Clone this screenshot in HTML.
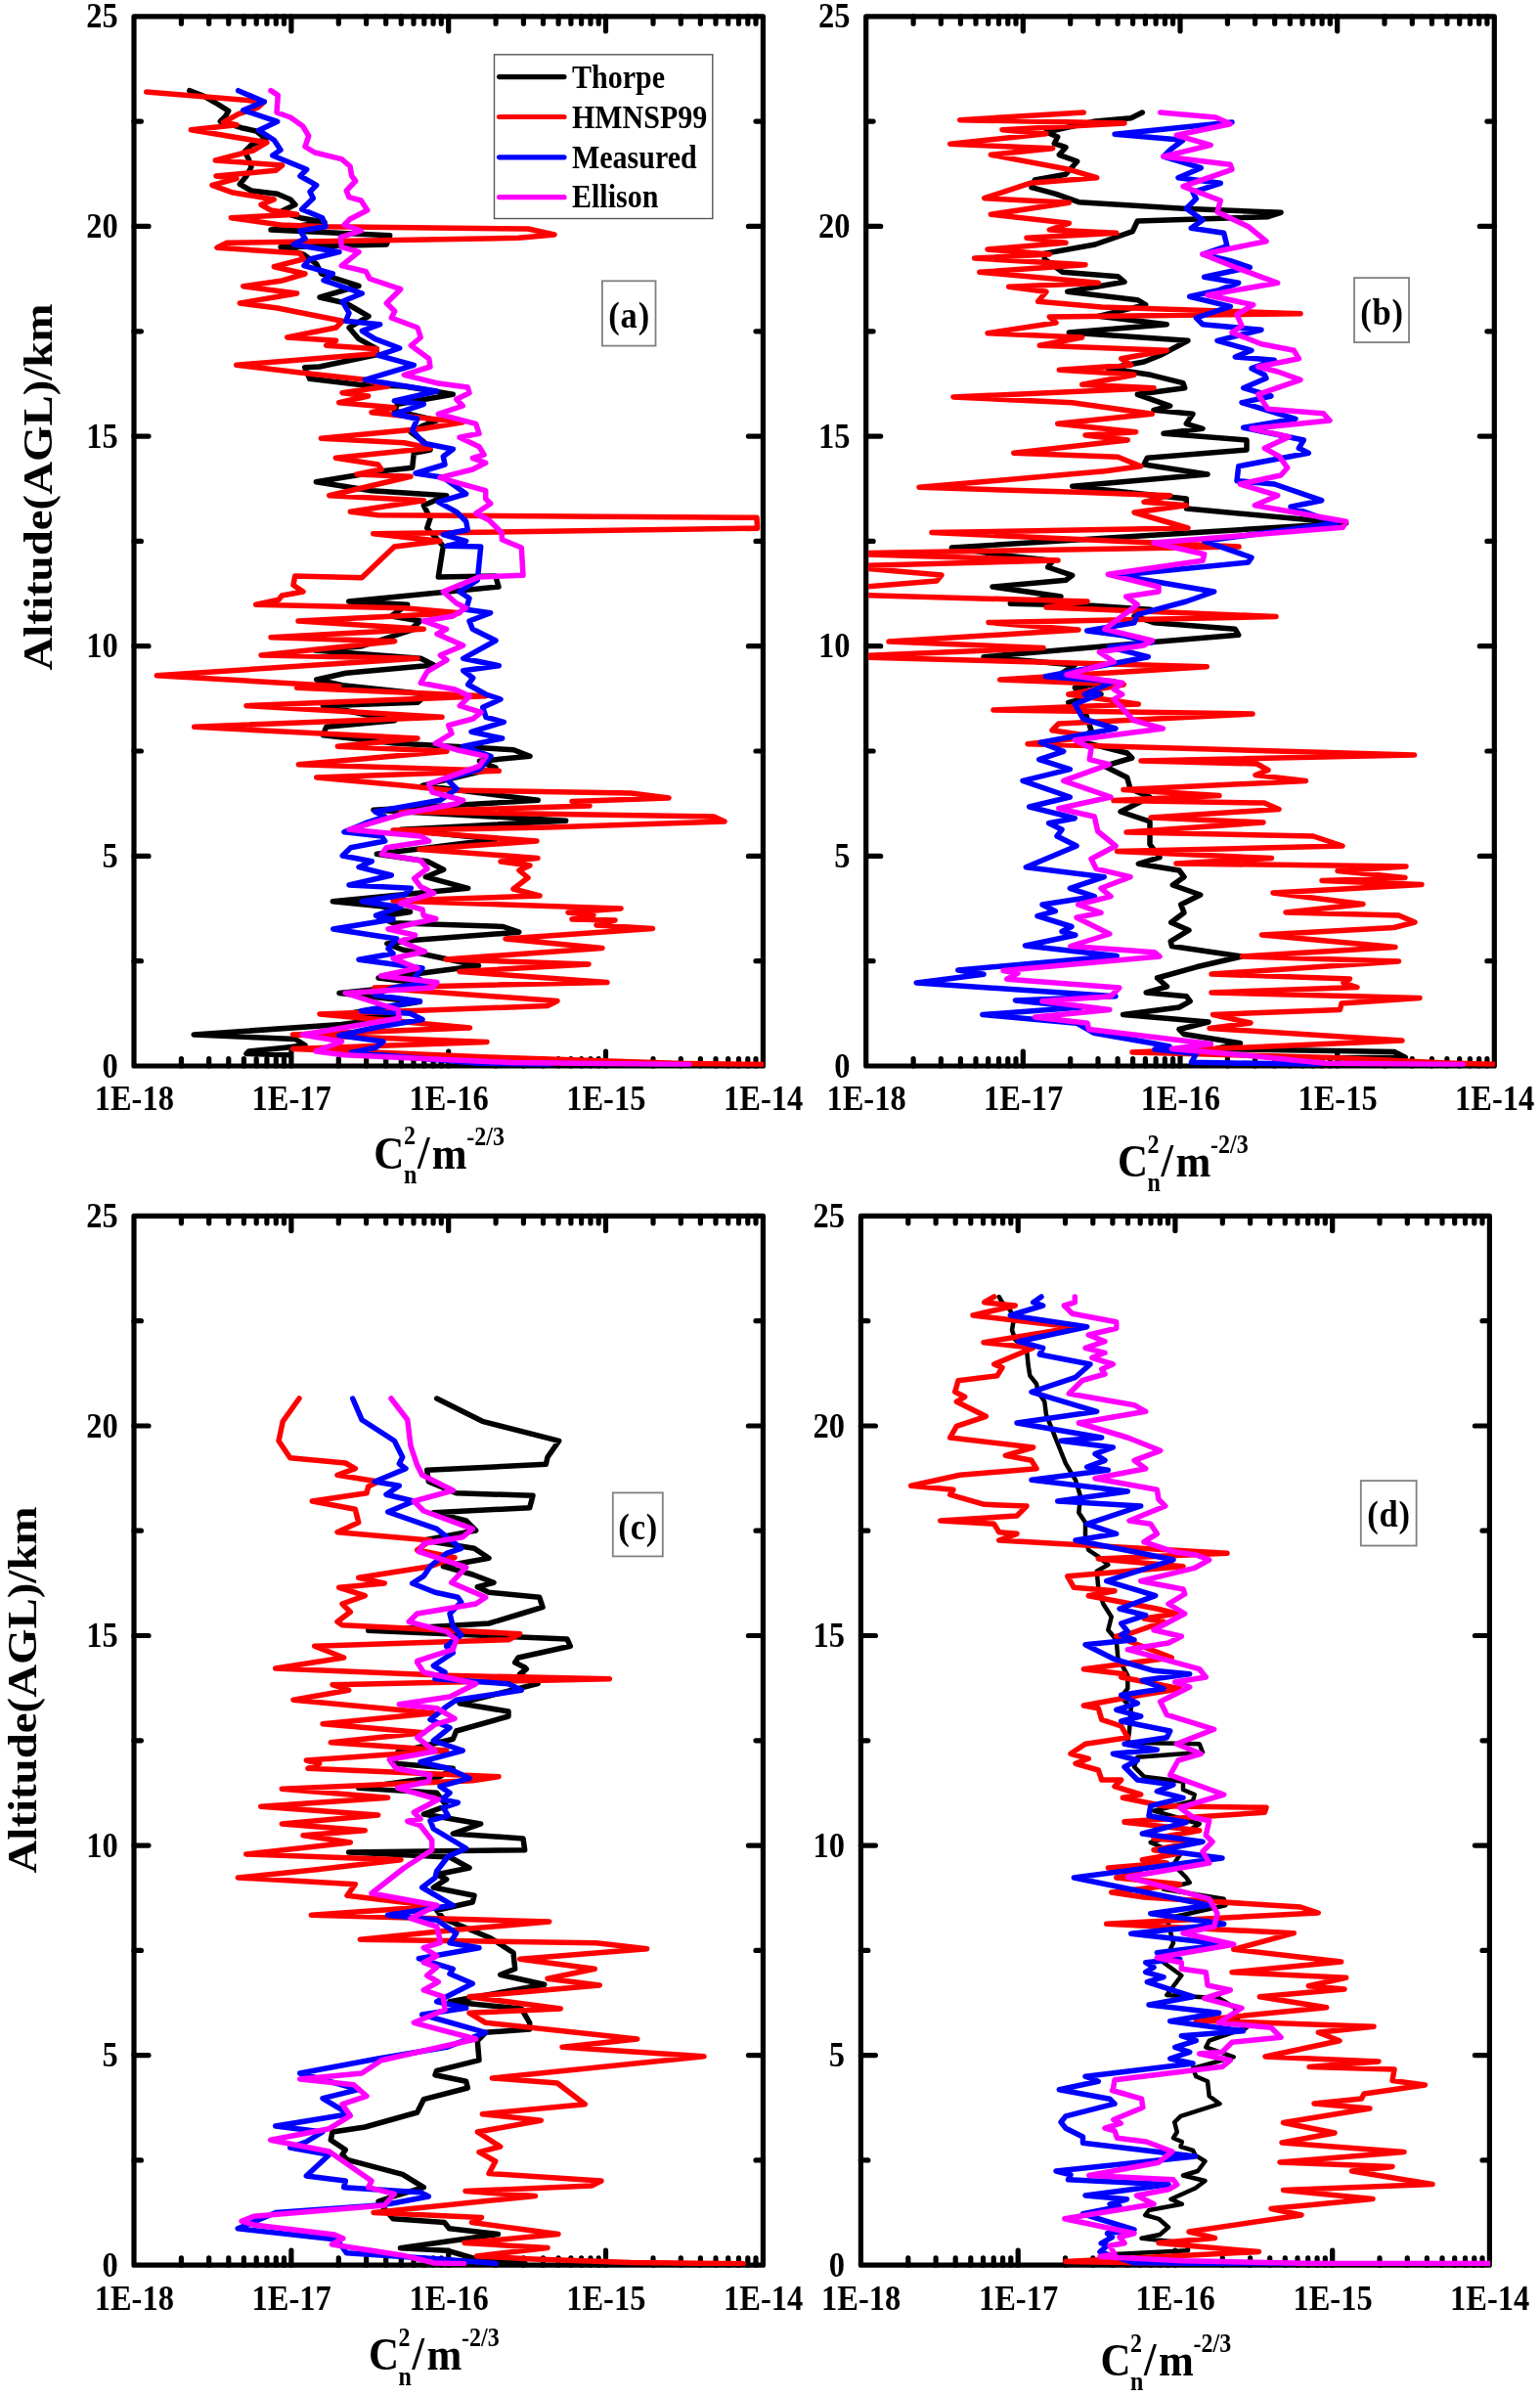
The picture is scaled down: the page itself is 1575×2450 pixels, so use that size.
<!DOCTYPE html>
<html><head><meta charset="utf-8"><title>Cn2 profiles</title>
<style>html,body{margin:0;padding:0;background:#fff}svg{display:block}text{font-family:"Liberation Serif","Times New Roman",serif;font-weight:bold;fill:#000}</style></head><body>
<svg width="1575" height="2450" viewBox="0 0 1575 2450">
<rect width="1575" height="2450" fill="#fff"/>
<defs><filter id="soft" x="0" y="0" width="100%" height="100%" filterUnits="objectBoundingBox"><feGaussianBlur stdDeviation="0.5"/></filter></defs>
<g filter="url(#soft)"><rect width="1575" height="2450" fill="#fff"/>
<g id="panel-a">
<path d="M185.4 16.8v7.4M185.4 1090v-7.4M213.7 16.8v7.4M213.7 1090v-7.4M233.8 16.8v7.4M233.8 1090v-7.4M249.4 16.8v7.4M249.4 1090v-7.4M262.2 16.8v7.4M262.2 1090v-7.4M272.9 16.8v7.4M272.9 1090v-7.4M282.3 16.8v7.4M282.3 1090v-7.4M290.5 16.8v7.4M290.5 1090v-7.4M297.9 16.8v15M297.9 1090v-15M346.3 16.8v7.4M346.3 1090v-7.4M374.6 16.8v7.4M374.6 1090v-7.4M394.7 16.8v7.4M394.7 1090v-7.4M410.3 16.8v7.4M410.3 1090v-7.4M423 16.8v7.4M423 1090v-7.4M433.8 16.8v7.4M433.8 1090v-7.4M443.1 16.8v7.4M443.1 1090v-7.4M451.3 16.8v7.4M451.3 1090v-7.4M458.7 16.8v15M458.7 1090v-15M507.1 16.8v7.4M507.1 1090v-7.4M535.4 16.8v7.4M535.4 1090v-7.4M555.5 16.8v7.4M555.5 1090v-7.4M571.1 16.8v7.4M571.1 1090v-7.4M583.9 16.8v7.4M583.9 1090v-7.4M594.6 16.8v7.4M594.6 1090v-7.4M604 16.8v7.4M604 1090v-7.4M612.2 16.8v7.4M612.2 1090v-7.4M619.5 16.8v15M619.5 1090v-15M668 16.8v7.4M668 1090v-7.4M696.3 16.8v7.4M696.3 1090v-7.4M716.4 16.8v7.4M716.4 1090v-7.4M732 16.8v7.4M732 1090v-7.4M744.7 16.8v7.4M744.7 1090v-7.4M755.5 16.8v7.4M755.5 1090v-7.4M764.8 16.8v7.4M764.8 1090v-7.4M773 16.8v7.4M773 1090v-7.4M137 982.7h7.4M780.4 982.7h-7.4M137 875.4h15M780.4 875.4h-15M137 768h7.4M780.4 768h-7.4M137 660.7h15M780.4 660.7h-15M137 553.4h7.4M780.4 553.4h-7.4M137 446.1h15M780.4 446.1h-15M137 338.8h7.4M780.4 338.8h-7.4M137 231.4h15M780.4 231.4h-15M137 124.1h7.4M780.4 124.1h-7.4" stroke="#000" stroke-width="5.2" fill="none" stroke-linecap="round"/>
<rect x="137" y="16.8" width="643.4" height="1073.2" fill="none" stroke="#000" stroke-width="5.2" stroke-linejoin="round"/>
<clipPath id="cp0"><rect x="139.4" y="16.8" width="641.6" height="1073.9"/></clipPath>
<g clip-path="url(#cp0)" fill="none" stroke-width="5.5" stroke-linejoin="round" stroke-linecap="round">
<polyline stroke="#000000" points="193.7,92.7 208.7,98.3 220.3,105 233.7,113.3 230.3,119.3 225.3,124 247,130.7 262,134 272,141.7 257,148.3 250.3,155 254.3,162.7 257,170.7 252,180 245.3,188.3 257,195 283.7,198.3 297,204 302,209.3 292,214 287,216.7 307,222.7 332,227.3 277,235 398.7,240.7 395.3,250 287,252.7 310.3,260 323.7,270 328.7,280 367,292.3 327,304 353.7,310 377,323.3 357,335 367,346.7 385.3,356.7 385,362.7 326.7,375 311.7,375.7 316.7,387.3 366.7,393.3 413.3,395 463.3,403.3 406.7,413.3 403.3,420 446.7,430 433.3,435 420,441.7 433.3,451.7 440,460 423.3,463.3 421.7,478.3 390,481.7 323.3,492.7 380,501.7 456.7,506.7 433.3,516.7 440,530 436.7,540 453.3,558.3 448.3,590 506.7,589 510,600 356.7,615 416.7,618.3 400,630 430,635 420,643.3 422,644 370.3,660.7 322,665 430.3,673.3 443.7,680 353.7,688.3 323.7,695 350.3,700.7 437,710 427,718.3 330.3,721.7 403.7,736.7 333.7,743.3 330.3,751.7 403.7,760 525.3,766.7 542,773.3 490.3,778.3 507,785 432,803.3 550.3,818.3 382,828.3 578.7,839.3 410.3,848.3 507,858.3 427,868.3 385.3,873.3 437,880.7 453.7,889.3 435.3,896.7 478.7,908.3 340.3,921.7 390.3,926.7 419.5,932.5 387,937.5 402,943.8 514.5,947.5 530.8,953.2 424.5,961.2 395.8,965 412,971.2 489.5,987.5 432,995 387,1000 437,1006.2 347,1015.5 409.5,1022.5 429.5,1024.2 357,1036.2 407,1040 349.5,1047.5 198.2,1058 302,1062.5 312,1068.8 292,1071.2 254.5,1075 252,1077.5 297,1078.8"/>
<polyline stroke="#ff0000" points="149.7,94 270.3,104 263.7,110 243.7,116.7 228.7,125 242,127.7 195.3,132.7 273,145.7 258.7,154 220.3,164 288.7,169 282,174.3 221,180 242,182.7 217,189.3 237,196.7 280.3,204 267,209.3 277,215 303.7,219.3 236.3,222.7 287,230 333.7,231.7 540.3,234 567,240 530.3,243.3 232,248.3 222,253.3 307,259 310.3,265 280.3,272.7 312,280 287,287.3 248.7,292.7 303.7,300 245.3,310 283.7,315 350.3,328.3 343.7,335 293.7,345 343.7,348.3 333.7,353.3 385.3,356.7 383.7,361.7 241.7,373.3 313.3,381.7 373.3,388.3 396.7,395 350,401.7 376.7,405 346.7,411.7 403.3,416.7 380,421.7 473.3,431.7 433.3,438.3 328.3,448.3 413.3,452.7 440,458.3 343.3,468.3 386.7,475 390,480 365,485 420,487.3 336.7,506.7 433.3,511.7 358.3,523.3 386.7,526.7 774,529.3 774.5,540.2 381.7,545.7 450,553.3 403.3,559 370,590.7 301.7,589 300,598.3 310,605 288.3,609 285,613.3 261.7,618.3 413.3,621.7 470,626.7 305,635 433.3,643.3 277,651.7 403.7,655.7 267,670 427,673.3 160.3,690.7 347,701.7 303.7,703.3 497,711.7 252,721.7 452,733.3 198.7,743.3 427,755 345.3,763.3 457,768.3 305.3,781.7 510.3,788.3 323.7,795 413.7,803.3 457.5,808 645,811 684,816 585,819.5 603,824 410,830 730,835 741,840 560,846 402,849 549,860 429,868.5 550,877.5 512,881 542,885 531,890 540,897.5 525,909 552,916 402,921 635,929 581,933 607,936 585,940 629,941 610,946 667.5,949.5 517,960 616,969.5 456,981 602,986 470,993.5 621,1004.5 383,1010 570,1023.5 560,1028.5 327,1037 480.5,1051 299.5,1058 498,1065.5 299.5,1072.5 500,1081 700,1087.5 790,1088.6"/>
<polyline stroke="#0000ff" points="243.7,92.7 270.3,104 248.7,112.7 283.7,124.3 264.7,133.3 280.3,143.3 287,153.3 278.7,159 313.7,173.3 307,180 323.7,189.3 317,196 320.3,202.7 308.7,214 329.7,222.7 333,231.7 307,236 312,244 300.3,250 347,257.7 317,265 311,271.7 340.3,280 331,286.7 370.3,300 350.3,308.3 357,320 353.7,328.3 388.7,331.7 370.3,338.3 383.7,346.7 408.7,356 387,363.3 423.3,373.3 373.3,388.3 446.7,400 403.3,410 433.3,413.3 403.3,423.3 426.7,428.3 421.7,440 433.3,453.3 463.3,459.3 453.3,466.7 455,475 425,484 453.3,488.3 476.7,505 448.3,513.3 466.7,523.3 476.7,533.3 478.3,541.7 453.3,546.7 476.7,553.3 456.7,558.3 491.7,559 488.3,593.3 470,605 480,611.7 476.7,623.3 501.7,626.7 480,635 483.3,643.3 507,655 473.7,673.3 510.3,680.7 473.7,685.7 483.7,693.3 478.7,700 497,710 512,715 493.7,723.3 497,733.3 515.3,738.3 482,748.3 513.7,755 473.7,763.3 502,773.3 490.3,786.7 457,796.7 467,806.7 450.3,818.3 383.7,830 393.7,835 373.7,841.7 352,850.7 390.3,855 393.7,860 358.7,866.7 350.3,875 380.3,880.7 367,886.7 400.3,895 357,905 420.3,908.3 413.7,915 370.3,921.7 409.5,927.5 384.5,936.2 402,940 340.8,950 405.8,960 397,970 402,975 367,981.2 432,990 424.5,998.8 435.8,1005 402,1010 383.2,1017.5 429.5,1023.8 369.5,1033.8 419.5,1036.2 432,1042.5 387,1050 347,1058.8 392,1065 384.5,1071.2 359.5,1076.2 487,1087 562,1088.5"/>
<polyline stroke="#ff00ff" points="277,92.7 284.3,97.3 283,115 297,120 309.7,129 315.7,139 312,150 322,156 349.3,162.7 358,170 359.7,180 363.7,185 354.3,195 357,201.7 369.3,205 375.7,215 358,224 352,230 369.3,236 348.3,242.7 349.3,252.7 367,257.7 349.3,271.7 374.3,277.7 378,285 409.7,295.7 395.3,310 403.7,318.3 400.3,325 427,335 430.3,345 420.3,353.3 438.7,366.7 440,375 413.3,383.3 446.7,391.7 478.3,396 480,401.7 466.7,408.3 473.3,415 448.3,423.3 486.7,433.3 490,443.3 470,447.3 490,456.7 495,465 483.3,468.3 496.7,473.3 483.3,480 450,488.3 466.7,493.3 496.7,501.7 496.7,510 501.7,515 486.7,525 500,531.7 513.3,545 513.3,551.7 533.3,560 535,588.3 490,590 453.3,605 466.7,616.7 476.7,621.7 463.3,630 433.3,635 456.7,643.3 447,648.3 473.7,660 450.3,670 457,675 437,686.7 430.3,698.3 465.3,705 480.3,711.7 470.3,721.7 492,728.3 483.7,735 458.7,741.7 462,750 445.3,760 467,766.7 497,773.3 490.3,783.3 467,791.7 438.7,801.7 442,810 473.7,818.3 467,821.7 413.7,831.7 357,848.3 430.3,855 438.7,860 395.3,866.7 390.3,873.3 430.3,880 437,888.3 423.7,898.3 430.3,906.7 443.7,913.3 410.3,923.3 409.5,923.8 432,930 433.2,936.2 445.8,939.5 397,950 424.5,956.2 409.5,962.5 434.5,973 402,980 427,990 389.5,998 447,1004.5 442,1010 353.2,1015.5 407,1032.5 408.2,1041.2 309.5,1058 349.5,1065 323.2,1075 352,1078.8 522,1086.5 705,1088.5"/>
</g>
<text transform="translate(120.7 1101.6) scale(1 1.1)" font-size="32.5" text-anchor="end">0</text>
<text transform="translate(120.7 887) scale(1 1.1)" font-size="32.5" text-anchor="end">5</text>
<text transform="translate(120.7 672.3) scale(1 1.1)" font-size="32.5" text-anchor="end">10</text>
<text transform="translate(120.7 457.7) scale(1 1.1)" font-size="32.5" text-anchor="end">15</text>
<text transform="translate(120.7 243) scale(1 1.1)" font-size="32.5" text-anchor="end">20</text>
<text transform="translate(120.7 28.4) scale(1 1.1)" font-size="32.5" text-anchor="end">25</text>
<text transform="translate(137.3 1135.3) scale(1 1.1)" font-size="32.5" text-anchor="middle">1E-18</text>
<text transform="translate(298.2 1135.3) scale(1 1.1)" font-size="32.5" text-anchor="middle">1E-17</text>
<text transform="translate(459 1135.3) scale(1 1.1)" font-size="32.5" text-anchor="middle">1E-16</text>
<text transform="translate(619.8 1135.3) scale(1 1.1)" font-size="32.5" text-anchor="middle">1E-15</text>
<text transform="translate(780.7 1135.3) scale(1 1.1)" font-size="32.5" text-anchor="middle">1E-14</text>
<g transform="translate(382.3 1194.5) scale(1 1.1)"><text font-size="43" x="0" y="0">C</text><text font-size="24" x="30.6" y="-22.3">2</text><text font-size="24" x="30.6" y="13.8">n</text><text font-size="45" x="44.6" y="0">/</text><text font-size="43" x="59.5" y="0">m</text><text font-size="24" x="95" y="-21.8">-2/3</text></g>
<text transform="translate(52.6 498) rotate(-90)" font-size="43" text-anchor="middle" textLength="375" lengthAdjust="spacingAndGlyphs">Altitude(AGL)/km</text>
</g>
<g id="panel-b">
<path d="M934.1 16.8v7.4M934.1 1090v-7.4M962.3 16.8v7.4M962.3 1090v-7.4M982.4 16.8v7.4M982.4 1090v-7.4M998 16.8v7.4M998 1090v-7.4M1010.7 16.8v7.4M1010.7 1090v-7.4M1021.5 16.8v7.4M1021.5 1090v-7.4M1030.8 16.8v7.4M1030.8 1090v-7.4M1039 16.8v7.4M1039 1090v-7.4M1046.3 16.8v15M1046.3 1090v-15M1094.7 16.8v7.4M1094.7 1090v-7.4M1123 16.8v7.4M1123 1090v-7.4M1143.1 16.8v7.4M1143.1 1090v-7.4M1158.6 16.8v7.4M1158.6 1090v-7.4M1171.4 16.8v7.4M1171.4 1090v-7.4M1182.1 16.8v7.4M1182.1 1090v-7.4M1191.4 16.8v7.4M1191.4 1090v-7.4M1199.6 16.8v7.4M1199.6 1090v-7.4M1207 16.8v15M1207 1090v-15M1255.4 16.8v7.4M1255.4 1090v-7.4M1283.6 16.8v7.4M1283.6 1090v-7.4M1303.7 16.8v7.4M1303.7 1090v-7.4M1319.3 16.8v7.4M1319.3 1090v-7.4M1332 16.8v7.4M1332 1090v-7.4M1342.8 16.8v7.4M1342.8 1090v-7.4M1352.1 16.8v7.4M1352.1 1090v-7.4M1360.3 16.8v7.4M1360.3 1090v-7.4M1367.7 16.8v15M1367.7 1090v-15M1416 16.8v7.4M1416 1090v-7.4M1444.3 16.8v7.4M1444.3 1090v-7.4M1464.4 16.8v7.4M1464.4 1090v-7.4M1479.9 16.8v7.4M1479.9 1090v-7.4M1492.7 16.8v7.4M1492.7 1090v-7.4M1503.4 16.8v7.4M1503.4 1090v-7.4M1512.7 16.8v7.4M1512.7 1090v-7.4M1520.9 16.8v7.4M1520.9 1090v-7.4M885.7 982.7h7.4M1528.3 982.7h-7.4M885.7 875.4h15M1528.3 875.4h-15M885.7 768h7.4M1528.3 768h-7.4M885.7 660.7h15M1528.3 660.7h-15M885.7 553.4h7.4M1528.3 553.4h-7.4M885.7 446.1h15M1528.3 446.1h-15M885.7 338.8h7.4M1528.3 338.8h-7.4M885.7 231.4h15M1528.3 231.4h-15M885.7 124.1h7.4M1528.3 124.1h-7.4" stroke="#000" stroke-width="5.2" fill="none" stroke-linecap="round"/>
<rect x="885.7" y="16.8" width="642.6" height="1073.2" fill="none" stroke="#000" stroke-width="5.2" stroke-linejoin="round"/>
<clipPath id="cp1"><rect x="888.1" y="16.8" width="640.8" height="1073.9"/></clipPath>
<g clip-path="url(#cp1)" fill="none" stroke-width="5.5" stroke-linejoin="round" stroke-linecap="round">
<polyline stroke="#000000" points="1168.3,115 1156.7,120.7 1120,124 1070,135 1081.7,140 1078.3,146.7 1090,150.7 1083.3,158.3 1101.7,165 1090,178.3 1058.3,184 1055,191.7 1080,198.3 1103.3,206.7 1210,213.3 1310,217.3 1296.7,221.7 1163.3,226 1158.3,236.7 1120,250 1068.3,259.3 1068.3,265 1086.7,278.3 1143.3,282.7 1150,288.3 1091.7,298.3 1163.3,306.7 1171.7,311.7 1123.3,323.3 1193.3,331.7 1093.3,340 1215,348.3 1186.7,363.3 1170,370 1133.3,376.7 1176.7,383.3 1210,391.7 1211.7,396.7 1163.3,403.3 1186.7,411.7 1196.7,415 1180,419.3 1220,423.3 1213.3,433.3 1230,438.3 1190,443.3 1275,450 1275,460 1173.3,468.3 1170,475 1235,485 1096.7,497.3 1213.3,510 1213.3,520 1376.7,535 973.3,560 1030,568.3 1076.7,573.3 1071.7,580 1096.7,588.3 1090,593.3 1015,600 1085,610 1033.3,617.3 1116.7,619.3 1176.7,623.3 1160,630 1180,636.7 1263.3,643.3 1266.7,649.3 1176.7,656.7 1119.3,661.7 1006,671.7 1099.3,680 1086,688.3 1126,698.3 1099.3,703.3 1126,710 1092.7,718.3 1109.3,726.7 1116,746.7 1106,758.3 1152.7,770 1157.7,775 1129.3,783.3 1152.7,795 1156,806.7 1176,815 1146,830 1176,840 1176,863.3 1186,876.7 1164.3,883.3 1206,890 1211,896.7 1199.3,905 1227.7,915 1207.7,925 1211,933.3 1197.7,943.3 1216,951.2 1197.2,962.5 1198.5,967.5 1269.8,978 1223.5,988.8 1183.5,1000 1193.5,1008.8 1172.2,1015 1213.5,1018.8 1217.2,1023.8 1206,1030 1148.5,1037.5 1236,1045 1206,1052.5 1211,1057.5 1268.5,1066.8 1243.5,1072.5 1426,1075.5 1437.2,1081.2 1368.5,1081.8"/>
<polyline stroke="#ff0000" points="1108.3,115 981.7,122.7 1150,126 1025,132.7 1070,136.7 971.7,147.3 1076.7,151.7 1013.3,158.3 1093.3,173.3 1121.7,181.7 1053.3,187.3 1006.7,202.7 1093.3,207.3 1013.3,219.3 1093.3,228.3 1073.3,235 1141.7,238.3 1050,243.3 1090,248.3 1010,255 1073.3,260 996.7,264 1110,270.7 1001.7,278.3 1123.3,289.3 1031.7,293.3 1070,298.3 1061.7,308.3 1126.7,314 1330,320.7 1073.3,324 1080,330 1010,340.7 1106.7,345 1063.3,353.3 1193.3,358.3 1146.7,366.7 1156.7,373.3 1083.3,378.3 1156.7,382.7 1160,383.3 1106.7,393.3 1180,396.7 975,406 1096.7,411.7 1178.3,423.3 1081.7,433.3 1161.7,441.7 1110,445 1153.3,450 1036.7,463.3 1143.3,467.3 1166.7,476.7 1130,481.7 940,498.3 1103.3,503.3 1196.7,506.7 1170,513.3 1213.3,516.7 1160,524 1215,540 953,544.5 1267,559 860,566 1082,573 860,579 963,588 958,594 860,602 860,608 1112,615 1070,621 1305,630.5 1011,636.5 1103,644 909,656 1067,662.5 860,671.5 1234.3,681.7 1022.7,695 1149.3,700 1092.7,710 1164.3,720 1016,726 1281,730 1082.7,740 1076,746.7 1119.3,753.3 1051,760.7 1446.5,772 1167,778 1285.5,781 1297,787.5 1284,792.5 1335.5,798.5 1149,807.5 1247,813.5 1139,818.5 1293,821 1308,827.5 1177,836 1292,841 1152,851 1343,855 1373,865 1142.5,870.5 1300.5,877.5 1203,883 1438,886 1368,890.5 1437,897.5 1352,900.5 1454,904.5 1302,913 1394,924.5 1315,933 1430.5,936 1447,943 1425.5,948.5 1290.5,956 1427,968.5 1270.5,978 1430.5,983 1239,996 1380.5,1001 1374,1005 1388,1009.5 1239,1015 1452,1020.5 1372,1026 1370.5,1032.5 1240.5,1037.5 1279,1046 1237,1051.5 1434,1064 1158,1076 1363,1081.5 1480,1087 1540,1088.5"/>
<polyline stroke="#0000ff" points="1260,125 1140,137.3 1210,143.3 1196.7,153.3 1190,160 1228.3,171.7 1205,181.7 1248.3,187.3 1220,196.7 1223.3,203.3 1213.3,213.3 1230,225 1218.3,233.3 1251.7,238.3 1255,251.7 1230,260 1258.3,266.7 1278.3,273.3 1231.7,283.3 1266.7,289.3 1246.7,296.7 1216.7,303.3 1258.3,313.3 1223.3,325 1230,331.7 1290,337.3 1245,348.3 1280,358.3 1263.3,365 1303.3,368.3 1280,376.7 1293.3,383.3 1295,386.7 1271.7,396.7 1300,405 1270,411.7 1325,428.3 1271.7,437.3 1333.3,450 1328.3,458.3 1338.3,463.3 1266.7,476.7 1265,491.7 1303.3,495 1351.7,511.7 1320,518.3 1366.7,535 1231.7,553.3 1280,570 1276.7,575 1143.3,588.3 1241.7,605 1213.3,615 1163.3,628.3 1160,636.7 1111.7,645 1150,650 1178.3,656.7 1134.3,661.7 1174.3,671.7 1069.3,691.7 1139.3,696.7 1109.3,710 1124.3,710 1099.3,720 1107.7,735 1141,745 1064.3,759.3 1087.7,768.3 1062.7,776.7 1094.3,786.7 1046,798.3 1094.3,815 1052.7,825 1099.3,836.7 1072.7,841.7 1086,848.3 1081,855 1101,865 1049.3,886.7 1129.3,896.7 1094.3,908.3 1119.3,916.7 1066,925 1079.3,931.7 1061,936.7 1096,947.5 1086,952.5 1099.8,956.2 1048.5,967 1142.2,977.5 979.8,992 1006,996.2 937.2,1005 1141,1018.8 1038.5,1023 1106,1030 1004.8,1037.5 1101,1046.2 1118.5,1056.2 1176,1066.2 1196,1070 1181,1073 1223.5,1077.5 1218.5,1086.2 1348.5,1088.5"/>
<polyline stroke="#ff00ff" points="1186.7,115 1243.3,120 1258.3,126.7 1203.3,138.3 1238.3,148.3 1190,160 1258.3,168.3 1260,173.3 1210,190.7 1248.3,205 1245,216.7 1276.7,231.7 1295,246.7 1230,260 1263.3,273.3 1306.7,289.3 1235,301.7 1281.7,311.7 1265,321.7 1270,333.3 1260,340 1290,351.7 1323.3,358.3 1328.3,366.7 1286.7,375 1306.7,380 1330,388.3 1286.7,403.3 1296.7,418.3 1353.3,422.7 1360,430 1280,438.3 1318.3,446.7 1293.3,458.3 1308.3,466.7 1316.7,478.3 1310,486 1268.3,495 1306.7,506.7 1283.3,516.7 1376.7,533.3 1373.3,539.3 1180,555 1231.7,566.7 1230,573.3 1133.3,587.3 1185,600 1185,605 1151.7,610 1163.3,618.3 1130,643.3 1178.3,655 1169.3,660 1124.3,666.7 1139.3,676.7 1091,690 1147.7,698.3 1139.3,705 1147.7,710 1139.3,715 1159.3,736.7 1189.3,745 1099.3,756.7 1116,765 1114.3,776.7 1134.3,781.7 1087.7,798.3 1136,815 1082.7,826.7 1119.3,835 1122.7,850 1141,865 1116,878.3 1121,888.3 1156,896.7 1126,908.3 1136,916.7 1102.7,925 1126,933.3 1101,938.3 1134.8,955 1094.8,967.5 1181,973.8 1186,978 1026,992.5 1041,995 1029.8,1001.2 1144.8,1010 1136,1018.8 1066,1023.8 1134.8,1032.5 1058.5,1040 1112.2,1046.2 1113.5,1052.5 1238.5,1067.5 1198.5,1072.5 1256,1077.5 1356,1087.2 1496.4,1088.5"/>
</g>
<text transform="translate(869.4 1101.6) scale(1 1.1)" font-size="32.5" text-anchor="end">0</text>
<text transform="translate(869.4 887) scale(1 1.1)" font-size="32.5" text-anchor="end">5</text>
<text transform="translate(869.4 672.3) scale(1 1.1)" font-size="32.5" text-anchor="end">10</text>
<text transform="translate(869.4 457.7) scale(1 1.1)" font-size="32.5" text-anchor="end">15</text>
<text transform="translate(869.4 243) scale(1 1.1)" font-size="32.5" text-anchor="end">20</text>
<text transform="translate(869.4 28.4) scale(1 1.1)" font-size="32.5" text-anchor="end">25</text>
<text transform="translate(886 1135.3) scale(1 1.1)" font-size="32.5" text-anchor="middle">1E-18</text>
<text transform="translate(1046.6 1135.3) scale(1 1.1)" font-size="32.5" text-anchor="middle">1E-17</text>
<text transform="translate(1207.3 1135.3) scale(1 1.1)" font-size="32.5" text-anchor="middle">1E-16</text>
<text transform="translate(1368 1135.3) scale(1 1.1)" font-size="32.5" text-anchor="middle">1E-15</text>
<text transform="translate(1528.6 1135.3) scale(1 1.1)" font-size="32.5" text-anchor="middle">1E-14</text>
<g transform="translate(1143 1203.2) scale(1 1.1)"><text font-size="43" x="0" y="0">C</text><text font-size="24" x="30.6" y="-22.3">2</text><text font-size="24" x="30.6" y="13.8">n</text><text font-size="45" x="44.6" y="0">/</text><text font-size="43" x="59.5" y="0">m</text><text font-size="24" x="95" y="-21.8">-2/3</text></g>
</g>
<g id="panel-c">
<path d="M185.4 1243.4v7.4M185.4 2316.2v-7.4M213.7 1243.4v7.4M213.7 2316.2v-7.4M233.8 1243.4v7.4M233.8 2316.2v-7.4M249.4 1243.4v7.4M249.4 2316.2v-7.4M262.2 1243.4v7.4M262.2 2316.2v-7.4M272.9 1243.4v7.4M272.9 2316.2v-7.4M282.3 1243.4v7.4M282.3 2316.2v-7.4M290.5 1243.4v7.4M290.5 2316.2v-7.4M297.9 1243.4v15M297.9 2316.2v-15M346.3 1243.4v7.4M346.3 2316.2v-7.4M374.6 1243.4v7.4M374.6 2316.2v-7.4M394.7 1243.4v7.4M394.7 2316.2v-7.4M410.3 1243.4v7.4M410.3 2316.2v-7.4M423 1243.4v7.4M423 2316.2v-7.4M433.8 1243.4v7.4M433.8 2316.2v-7.4M443.1 1243.4v7.4M443.1 2316.2v-7.4M451.3 1243.4v7.4M451.3 2316.2v-7.4M458.7 1243.4v15M458.7 2316.2v-15M507.1 1243.4v7.4M507.1 2316.2v-7.4M535.4 1243.4v7.4M535.4 2316.2v-7.4M555.5 1243.4v7.4M555.5 2316.2v-7.4M571.1 1243.4v7.4M571.1 2316.2v-7.4M583.9 1243.4v7.4M583.9 2316.2v-7.4M594.6 1243.4v7.4M594.6 2316.2v-7.4M604 1243.4v7.4M604 2316.2v-7.4M612.2 1243.4v7.4M612.2 2316.2v-7.4M619.5 1243.4v15M619.5 2316.2v-15M668 1243.4v7.4M668 2316.2v-7.4M696.3 1243.4v7.4M696.3 2316.2v-7.4M716.4 1243.4v7.4M716.4 2316.2v-7.4M732 1243.4v7.4M732 2316.2v-7.4M744.7 1243.4v7.4M744.7 2316.2v-7.4M755.5 1243.4v7.4M755.5 2316.2v-7.4M764.8 1243.4v7.4M764.8 2316.2v-7.4M773 1243.4v7.4M773 2316.2v-7.4M137 2208.9h7.4M780.4 2208.9h-7.4M137 2101.6h15M780.4 2101.6h-15M137 1994.4h7.4M780.4 1994.4h-7.4M137 1887.1h15M780.4 1887.1h-15M137 1779.8h7.4M780.4 1779.8h-7.4M137 1672.5h15M780.4 1672.5h-15M137 1565.2h7.4M780.4 1565.2h-7.4M137 1458h15M780.4 1458h-15M137 1350.7h7.4M780.4 1350.7h-7.4" stroke="#000" stroke-width="5.2" fill="none" stroke-linecap="round"/>
<rect x="137" y="1243.4" width="643.4" height="1072.8" fill="none" stroke="#000" stroke-width="5.2" stroke-linejoin="round"/>
<clipPath id="cp2"><rect x="139.4" y="1243.4" width="641.6" height="1073.5"/></clipPath>
<g clip-path="url(#cp2)" fill="none" stroke-width="5.5" stroke-linejoin="round" stroke-linecap="round">
<polyline stroke="#000000" points="446.7,1430 493.3,1453.3 571.7,1473.3 560,1490 558.3,1497.3 436.7,1503.3 438.3,1515 466.7,1526.7 545,1529.3 541.7,1541.7 443.3,1546.7 476.7,1555 486.7,1565 433.3,1575 485,1583.3 500,1593.3 453.3,1601.7 483.3,1610 505,1618.3 488.3,1622.7 500,1628.3 551.7,1633.3 555,1643.3 533.3,1650 500,1660 376.7,1667.3 580,1676 583.3,1683.3 530,1695 526.7,1700 536.7,1705 538.3,1706.7 531.7,1711.7 550,1721.7 470,1741.7 520,1750 520,1755 466.7,1770 463.3,1778.3 406.7,1791.7 403.3,1803.3 463.3,1808.3 450,1816.7 366.7,1828.3 446.7,1833.3 456.7,1846.7 433.3,1855 491.7,1865 463.3,1875 535,1880 536.7,1891.7 356.7,1894 460,1899 480,1910 446.7,1916.7 456.7,1921.7 443.3,1930 485,1938.3 483.3,1945 446.7,1953.3 453.3,1961.7 501.7,1981.7 525,1996.7 526.7,2013.3 511.7,2019.3 556.7,2029.3 460,2046.7 533.3,2054 541.7,2068.3 541.7,2075 496.7,2078.3 488.3,2086.7 490,2106.7 446.7,2117.3 445,2121.7 476.7,2128.3 478.3,2135 433.3,2146.7 426.7,2160 373.3,2175 340,2180 338.3,2188.3 353.3,2198.3 350,2203.3 355,2208.3 411.7,2223.3 433.3,2236.7 400,2246.7 387,2251.2 402,2268.8 454.5,2272.5 459.5,2278.8 509.5,2284.5 409.5,2298.8 457,2301.2 487,2310 537,2314.2"/>
<polyline stroke="#ff0000" points="306,1430 289.3,1453.3 285,1473.3 296.7,1490.7 353.3,1496 363.3,1501.7 345,1508.3 386.7,1515 376.7,1520 375,1526.7 319.3,1535 363.3,1543.3 366.7,1556.7 345,1566.7 440,1575 426.7,1585 465,1592.7 440,1601.7 366.7,1613.3 393.3,1619 346.7,1623.3 373.3,1631.7 350,1640 358.3,1648.3 345,1658.3 350,1661.7 531.7,1670.7 520,1676.7 321.7,1683.3 351.7,1695 281.7,1706 456.7,1713.3 623.3,1716.7 340,1722.7 356.7,1728.3 300,1738.3 443.3,1751.7 330,1762.7 433.3,1771.7 338.3,1781.7 456.7,1790 313.3,1800 326.7,1803.3 315,1808.3 510,1816.7 483.3,1820.7 288.3,1829.3 396.7,1838.3 266.7,1847.3 386.7,1856 288.3,1865 373.3,1871.7 310,1876.7 358.3,1884 251.7,1896 410,1901.7 323.3,1911.7 243.3,1920 363.3,1926.7 355,1938.3 446.7,1949.3 318.3,1958.3 561.7,1965 466.7,1973.3 368.3,1983.3 610,1986.7 661.7,1992.7 531.7,2003.3 608.3,2013.3 560,2023.3 613.3,2030 480,2041.7 573.3,2054 480,2058.3 496.7,2068.3 651.7,2085 575,2093.3 720,2102.7 503.3,2125 570,2130 598.3,2151.7 493.3,2161.7 553.3,2168.3 488.3,2180 511.7,2195 490,2200.7 506.7,2210 500,2222.5 615,2230 605,2235 476,2240.5 547.5,2245.5 382,2262.5 492.5,2267.5 482.5,2272.5 571,2284.5 475,2293.5 560,2298.5 487.5,2307 545,2310 645,2313.5 760,2314.8"/>
<polyline stroke="#0000ff" points="360.7,1430 370,1451.7 403.3,1473.3 411.7,1490 408.3,1496.7 415,1501.7 383.3,1515 408.3,1519.3 395,1528.3 423.3,1535 396.7,1546 446.7,1563.3 471.7,1583.3 456.7,1588.3 440,1601.7 433.3,1611.7 421.7,1619 445,1628.3 468.3,1633.3 471.7,1638.3 460,1650 463.3,1663.3 471.7,1671.7 456.7,1683.3 463.3,1690 443.3,1703.3 455,1710 445,1716.7 520,1721.7 533.3,1728.3 466.7,1738.3 456.7,1745 440,1758.3 460,1766.7 443.3,1780 473.3,1790 430,1801.7 458.3,1808.3 480,1818.3 450,1826.7 460,1833.3 451.7,1840 468.3,1843.3 453.3,1848.3 458.3,1856.7 440,1861.7 443.3,1870 476.7,1890 458.3,1898.3 446.7,1913.3 445,1920 431.7,1930 463.3,1948.3 396.7,1958.3 446.7,1963.3 466.7,1976.7 460,1986.7 490,1991.7 428.3,2002.7 463.3,2013.3 460,2018.3 483.3,2028.3 446.7,2046.7 476.7,2053.3 431.7,2060 496.7,2078.3 456.7,2093.3 386.7,2105 306.7,2120 366.7,2136.7 330,2145.7 356.7,2161.7 281.7,2174 330,2180 313.3,2190 296.7,2196 336.7,2203.3 313.3,2225 353.3,2230 351.7,2236.7 430,2241.7 438.3,2246 400,2253.3 387,2255 282,2262.5 243.2,2278.8 344.5,2290 354.5,2303.8 449.5,2310 502,2314 507,2314.5"/>
<polyline stroke="#ff00ff" points="400,1430 416.7,1451.7 420,1478.3 426.7,1498.3 431.7,1508.3 463.3,1524 423.3,1535 433.3,1545 483.3,1563.3 473.3,1571.7 433.3,1578.3 428.3,1586.7 476.7,1602.7 461.7,1618.3 496.7,1633.3 486.7,1640 426.7,1650 418.3,1658.3 456.7,1668.3 466.7,1676.7 463.3,1686.7 426.7,1698.3 426.7,1700 433.3,1710 486.7,1721.7 460,1735 408.3,1742.7 446.7,1746.7 465,1757.3 445,1763.3 426.7,1776.7 445,1790.7 398.3,1799.3 405,1808.3 440,1815 438.3,1821.7 406.7,1828.3 448.3,1840 423.3,1853.3 430,1860 416.7,1862.3 430,1866.7 441.7,1881.7 441.7,1891.7 413.3,1910 380,1936 446.7,1948.3 420,1961.7 446.7,1970 450,1983.3 450,1986.7 433.3,1991.7 446.7,2000 433.3,2006.7 446.7,2011.7 436.7,2020 448.3,2026.7 433.3,2035 453.3,2041.7 455,2055 423.3,2068.3 486.7,2085 390,2106.7 370,2120 306.7,2126 361.7,2131.7 375,2143.3 350,2151.7 358.3,2163.3 336.7,2176.7 276.7,2188.3 336.7,2200 380,2230 376.7,2236.7 403.3,2243.3 393.3,2255 259.5,2266.2 247,2271.2 259.5,2275 342,2285 350.8,2288.8 339.5,2295 412,2306.2 444.5,2314 474.5,2314.8"/>
</g>
<text transform="translate(120.7 2327.8) scale(1 1.1)" font-size="32.5" text-anchor="end">0</text>
<text transform="translate(120.7 2113.2) scale(1 1.1)" font-size="32.5" text-anchor="end">5</text>
<text transform="translate(120.7 1898.7) scale(1 1.1)" font-size="32.5" text-anchor="end">10</text>
<text transform="translate(120.7 1684.1) scale(1 1.1)" font-size="32.5" text-anchor="end">15</text>
<text transform="translate(120.7 1469.6) scale(1 1.1)" font-size="32.5" text-anchor="end">20</text>
<text transform="translate(120.7 1255) scale(1 1.1)" font-size="32.5" text-anchor="end">25</text>
<text transform="translate(137.3 2361.5) scale(1 1.1)" font-size="32.5" text-anchor="middle">1E-18</text>
<text transform="translate(298.2 2361.5) scale(1 1.1)" font-size="32.5" text-anchor="middle">1E-17</text>
<text transform="translate(459 2361.5) scale(1 1.1)" font-size="32.5" text-anchor="middle">1E-16</text>
<text transform="translate(619.8 2361.5) scale(1 1.1)" font-size="32.5" text-anchor="middle">1E-15</text>
<text transform="translate(780.7 2361.5) scale(1 1.1)" font-size="32.5" text-anchor="middle">1E-14</text>
<g transform="translate(377 2423.4) scale(1 1.1)"><text font-size="43" x="0" y="0">C</text><text font-size="24" x="30.6" y="-22.3">2</text><text font-size="24" x="30.6" y="13.8">n</text><text font-size="45" x="44.6" y="0">/</text><text font-size="43" x="59.5" y="0">m</text><text font-size="24" x="95" y="-21.8">-2/3</text></g>
<text transform="translate(37 1728) rotate(-90)" font-size="43" text-anchor="middle" textLength="375" lengthAdjust="spacingAndGlyphs">Altitude(AGL)/km</text>
</g>
<g id="panel-d">
<path d="M928.8 1243.4v7.4M928.8 2316.2v-7.4M957.1 1243.4v7.4M957.1 2316.2v-7.4M977.2 1243.4v7.4M977.2 2316.2v-7.4M992.8 1243.4v7.4M992.8 2316.2v-7.4M1005.5 1243.4v7.4M1005.5 2316.2v-7.4M1016.2 1243.4v7.4M1016.2 2316.2v-7.4M1025.6 1243.4v7.4M1025.6 2316.2v-7.4M1033.8 1243.4v7.4M1033.8 2316.2v-7.4M1041.2 1243.4v15M1041.2 2316.2v-15M1089.5 1243.4v7.4M1089.5 2316.2v-7.4M1117.8 1243.4v7.4M1117.8 2316.2v-7.4M1137.9 1243.4v7.4M1137.9 2316.2v-7.4M1153.5 1243.4v7.4M1153.5 2316.2v-7.4M1166.2 1243.4v7.4M1166.2 2316.2v-7.4M1177 1243.4v7.4M1177 2316.2v-7.4M1186.3 1243.4v7.4M1186.3 2316.2v-7.4M1194.5 1243.4v7.4M1194.5 2316.2v-7.4M1201.9 1243.4v15M1201.9 2316.2v-15M1250.3 1243.4v7.4M1250.3 2316.2v-7.4M1278.6 1243.4v7.4M1278.6 2316.2v-7.4M1298.7 1243.4v7.4M1298.7 2316.2v-7.4M1314.3 1243.4v7.4M1314.3 2316.2v-7.4M1327 1243.4v7.4M1327 2316.2v-7.4M1337.7 1243.4v7.4M1337.7 2316.2v-7.4M1347.1 1243.4v7.4M1347.1 2316.2v-7.4M1355.3 1243.4v7.4M1355.3 2316.2v-7.4M1362.7 1243.4v15M1362.7 2316.2v-15M1411 1243.4v7.4M1411 2316.2v-7.4M1439.3 1243.4v7.4M1439.3 2316.2v-7.4M1459.4 1243.4v7.4M1459.4 2316.2v-7.4M1475 1243.4v7.4M1475 2316.2v-7.4M1487.7 1243.4v7.4M1487.7 2316.2v-7.4M1498.5 1243.4v7.4M1498.5 2316.2v-7.4M1507.8 1243.4v7.4M1507.8 2316.2v-7.4M1516 1243.4v7.4M1516 2316.2v-7.4M880.4 2208.9h7.4M1523.4 2208.9h-7.4M880.4 2101.6h15M1523.4 2101.6h-15M880.4 1994.4h7.4M1523.4 1994.4h-7.4M880.4 1887.1h15M1523.4 1887.1h-15M880.4 1779.8h7.4M1523.4 1779.8h-7.4M880.4 1672.5h15M1523.4 1672.5h-15M880.4 1565.2h7.4M1523.4 1565.2h-7.4M880.4 1458h15M1523.4 1458h-15M880.4 1350.7h7.4M1523.4 1350.7h-7.4" stroke="#000" stroke-width="5.2" fill="none" stroke-linecap="round"/>
<rect x="880.4" y="1243.4" width="643" height="1072.8" fill="none" stroke="#000" stroke-width="5.2" stroke-linejoin="round"/>
<clipPath id="cp3"><rect x="882.8" y="1243.4" width="641.2" height="1073.5"/></clipPath>
<g clip-path="url(#cp3)" fill="none" stroke-width="5.5" stroke-linejoin="round" stroke-linecap="round">
<polyline stroke="#000000" stroke-width="4.5" points="1021.7,1326 1025,1331.7 1033.3,1340 1036.7,1350 1035,1360 1038.3,1370 1050,1380 1051.7,1396.7 1053.3,1406.7 1060,1415 1061.7,1423.3 1068.3,1433.3 1070,1446.7 1076.7,1463.3 1083.3,1480 1090,1496.7 1100,1513.3 1105,1530 1103.3,1546.7 1110,1556.7 1110,1573.3 1113.3,1585 1123.3,1591.7 1133.3,1600 1121.7,1606.7 1123.3,1623.3 1128.3,1640 1136.7,1653.3 1133.3,1666.7 1141.7,1676.7 1143.3,1695 1153.3,1713.3 1153.3,1726.7 1146.7,1735 1156.7,1746.7 1155,1770 1153.3,1781.7 1226.7,1783.3 1230,1791.7 1163.3,1796.7 1160,1806.7 1170,1816.7 1210,1821.7 1210,1830 1221.7,1835 1220,1841.7 1180,1851.7 1226.7,1865 1213.3,1873.3 1176.7,1884 1206.7,1896.7 1200,1906.7 1213.3,1920 1216.7,1925 1190,1931.7 1251.7,1941.7 1253.3,1948.3 1193.3,1961.7 1200,1986.7 1190,2006.7 1208.3,2020 1193.3,2040 1246.7,2043.3 1263.3,2053.3 1263.3,2063.3 1275,2073.3 1236.7,2086.7 1233.3,2093.3 1261.7,2103.3 1220,2115 1223.3,2123.3 1235,2128.3 1236.7,2143.3 1247.5,2151.2 1207.5,2163.8 1201.2,2170 1203.8,2180 1200,2186.2 1208.8,2190 1207.5,2195 1220,2198.8 1222.5,2203.8 1232.5,2210 1225,2220 1210,2224.5 1232.5,2230 1222.5,2237.5 1197.5,2248.8 1208.8,2253.8 1175,2260 1171.2,2265 1185,2268.8 1195,2277.5 1186.2,2285 1167.5,2288.8 1215,2293.8 1215,2301.2 1140,2305"/>
<polyline stroke="#ff0000" points="1016.7,1326 1006.7,1331.7 1038.3,1335 995,1345 1100,1357.3 1006,1372.7 1056.7,1378.3 1016.7,1395 1025,1398.3 1020,1406.7 980,1411.7 976.7,1423.3 986.7,1428.3 978.3,1433.3 1008.3,1448.3 978.3,1458.3 971.7,1470 1056.7,1480 1028.3,1488.3 1055,1493.3 1060,1501.7 981.7,1508.3 931.7,1519.3 975,1523.3 971.7,1528.3 1006.7,1538.3 1050,1540 1040,1550 961.7,1555 1016.7,1558.3 1021.7,1566.7 1040,1568.3 1021.7,1575 1255,1588.3 1123.3,1594 1210,1601.7 1091.7,1611.7 1098.3,1623.3 1140,1626.7 1113.3,1631.7 1183.3,1645 1203.3,1650 1170,1655 1190,1658.3 1156.7,1670 1141.7,1673.3 1198.3,1695 1108.3,1706.7 1150,1711.7 1146.7,1715 1206.7,1726.7 1166.7,1733.3 1108.3,1744 1123.3,1746.7 1126.7,1758.3 1146.7,1765 1153.3,1776.7 1110,1783.3 1095,1793.3 1113.3,1798.3 1100,1803.3 1123.3,1810 1126.7,1820 1146.7,1820 1140,1826.7 1166.7,1835 1148.3,1838.3 1190,1846.7 1295,1848.3 1293.3,1853.3 1150,1862.7 1150,1863.3 1226.7,1871.7 1180,1880 1223.3,1883.3 1180,1891.7 1206.7,1895 1168.3,1901.7 1193.3,1905 1133.3,1910 1166.7,1915 1141.7,1920 1206.7,1926.7 1136.7,1935 1170,1940 1330,1950 1348.3,1956 1131.7,1967.3 1323.3,1976.7 1261.7,1993.3 1371.7,2006 1260,2016.7 1376.7,2022.3 1338.3,2030.7 1375,2034 1288.3,2041.7 1356.7,2052.7 1223.3,2066 1405,2072.3 1348.3,2078.3 1370,2086.7 1294,2103 1410,2108 1339,2113.5 1426,2116 1424,2127.5 1457.5,2132 1395,2141 1392.5,2146 1344,2151 1401,2156 1312.5,2170.5 1365,2181 1311,2191 1436,2200.5 1309,2211 1424,2215.5 1382.5,2220 1465,2233.5 1312.5,2239.5 1404,2248.5 1300,2258.5 1331,2265 1216,2282 1242.5,2288.5 1185,2293.5 1287.5,2302.5 1090,2312.5 1240,2315"/>
<polyline stroke="#0000ff" points="1065,1326 1056.7,1331.7 1066.7,1335 1033.3,1345 1111.7,1356.7 1041.7,1371.7 1066.7,1378.3 1063.3,1385 1115,1395 1100,1408.3 1055,1423.3 1121.7,1443.3 1040,1455 1126.7,1470 1085,1473.3 1138.3,1480 1120,1486.7 1130,1493.3 1111.7,1500 1133.3,1503.3 1055,1513.3 1153.3,1525 1081.7,1535 1166.7,1540 1111.7,1558.3 1141.7,1568.3 1100,1575 1160,1586.7 1200,1595 1131.7,1616.7 1181.7,1631.7 1145,1645 1171.7,1651.7 1146.7,1660 1153.3,1668.3 1146.7,1671.7 1160,1676.7 1110,1681.7 1140,1696.7 1180,1708.3 1216.7,1711.7 1168.3,1718.3 1190,1726.7 1146.7,1733.3 1163.3,1741.7 1141.7,1748.3 1166.7,1755 1146.7,1760 1196.7,1770 1193.3,1776.7 1150,1783.3 1183.3,1789.3 1138.3,1793.3 1163.3,1800 1150,1806.7 1163.3,1820 1200,1825 1183.3,1831.7 1210,1838.3 1176.7,1846.7 1175,1856.7 1213.3,1863.3 1168.3,1875 1230,1883.3 1186.7,1891.7 1250,1900 1098.3,1920 1236.7,1948.3 1176.7,1956.7 1251.7,1967.3 1156.7,1977.3 1253.3,1988.3 1183.3,1996.7 1206.7,2003.3 1171.7,2006.7 1180,2011.7 1171.7,2016.7 1190,2021.7 1173.3,2026.7 1220,2041.7 1175,2050 1246.7,2058.3 1196.7,2066.7 1271.7,2076.7 1208.3,2081.7 1223.3,2086.7 1201.7,2093.3 1216.7,2098.3 1196.7,2105 1220,2110 1110,2123.3 1123.3,2128.3 1083.3,2136.7 1135,2146.2 1140,2151.2 1090,2163.8 1085,2170 1090,2176.2 1107.5,2185 1107.5,2191.2 1222.5,2205 1080,2220 1095,2223.8 1092.5,2228.8 1195,2233.8 1110,2245 1152.5,2248.8 1135,2253.8 1145,2256.2 1107.5,2263.8 1160,2280 1132.5,2283.8 1137.5,2287.5 1126.2,2293.8 1132.5,2296.2 1125,2302.5 1160,2313.8 1345,2315.2 1365,2315.5"/>
<polyline stroke="#ff00ff" points="1099.3,1326 1099.3,1331.7 1088.3,1335 1096.7,1343.3 1141.7,1351.7 1141.7,1358.3 1113.3,1365 1130,1371.7 1110,1378.3 1130,1383.3 1116.7,1388.3 1138.3,1395 1126.7,1400 1130,1405 1106.7,1411.7 1093.3,1425 1160,1436.7 1171.7,1443.3 1103.3,1455 1153.3,1470 1186.7,1483.3 1160,1493.3 1171.7,1501.7 1120,1511.7 1183.3,1523.3 1185,1533.3 1191.7,1540 1155,1555 1176.7,1558.3 1183.3,1568.3 1170,1576.7 1200,1586.7 1223.3,1590 1236.7,1595 1221.7,1603.3 1166.7,1616.7 1210,1625 1211.7,1630 1195,1640 1211.7,1650 1180,1666.7 1208.3,1673.3 1195,1680 1153.3,1686.7 1226.7,1706.7 1233.3,1715 1201.7,1720 1216.7,1725 1186.7,1740 1193.3,1753.3 1241.7,1768.3 1203.3,1783.3 1228.3,1793.3 1205,1800 1196.7,1815 1251.7,1835 1206.7,1848.3 1220,1858.3 1236.7,1861.7 1233.3,1876.7 1240,1883.3 1230,1893.3 1236.7,1905 1153.3,1919.3 1236.7,1941.7 1245,1956.7 1241.7,1970 1210,1976.7 1261.7,1988.3 1183.3,2001.7 1208.3,2006.7 1208.3,2013.3 1233.3,2016.7 1235,2030 1258.3,2035 1231.7,2043.3 1270,2053.3 1246.7,2068.3 1300,2073.3 1310,2083.3 1260,2088.3 1250,2098.3 1226.7,2100 1258.3,2106.7 1250,2113.3 1140,2126.7 1138.3,2136.7 1137.5,2137.5 1167.5,2146.2 1168.8,2155 1138.8,2167.5 1146.2,2171.2 1130,2176.2 1140,2178.8 1142.5,2186.2 1172.5,2190 1198.8,2200 1185,2211.2 1113.8,2224.5 1200,2228.8 1203.8,2233.8 1195,2238.8 1162.5,2245 1180,2253.8 1088.8,2268.8 1160,2283.8 1145,2287.5 1150,2293.8 1135,2296.2 1140,2305 1125,2307.5 1210,2311.8 1345,2314.5 1560,2314.6"/>
</g>
<text transform="translate(864.1 2327.8) scale(1 1.1)" font-size="32.5" text-anchor="end">0</text>
<text transform="translate(864.1 2113.2) scale(1 1.1)" font-size="32.5" text-anchor="end">5</text>
<text transform="translate(864.1 1898.7) scale(1 1.1)" font-size="32.5" text-anchor="end">10</text>
<text transform="translate(864.1 1684.1) scale(1 1.1)" font-size="32.5" text-anchor="end">15</text>
<text transform="translate(864.1 1469.6) scale(1 1.1)" font-size="32.5" text-anchor="end">20</text>
<text transform="translate(864.1 1255) scale(1 1.1)" font-size="32.5" text-anchor="end">25</text>
<text transform="translate(880.7 2361.5) scale(1 1.1)" font-size="32.5" text-anchor="middle">1E-18</text>
<text transform="translate(1041.5 2361.5) scale(1 1.1)" font-size="32.5" text-anchor="middle">1E-17</text>
<text transform="translate(1202.2 2361.5) scale(1 1.1)" font-size="32.5" text-anchor="middle">1E-16</text>
<text transform="translate(1363 2361.5) scale(1 1.1)" font-size="32.5" text-anchor="middle">1E-15</text>
<text transform="translate(1523.7 2361.5) scale(1 1.1)" font-size="32.5" text-anchor="middle">1E-14</text>
<g transform="translate(1125.5 2429.2) scale(1 1.1)"><text font-size="43" x="0" y="0">C</text><text font-size="24" x="30.6" y="-22.3">2</text><text font-size="24" x="30.6" y="13.8">n</text><text font-size="45" x="44.6" y="0">/</text><text font-size="43" x="59.5" y="0">m</text><text font-size="24" x="95" y="-21.8">-2/3</text></g>
</g>
<g id="legend"><rect x="505.5" y="55.8" width="223.3" height="167.7" fill="#fff" stroke="#555" stroke-width="1.4"/>
<line x1="510.5" y1="78.6" x2="577" y2="78.6" stroke="#000" stroke-width="5.2" stroke-linecap="round"/>
<text transform="translate(585 90.3) scale(1 1.1)" font-size="30" text-anchor="start">Thorpe</text>
<line x1="510.5" y1="119.5" x2="577" y2="119.5" stroke="#f00" stroke-width="5.2" stroke-linecap="round"/>
<text transform="translate(585 130.6) scale(1 1.1)" font-size="30" text-anchor="start">HMNSP99</text>
<line x1="510.5" y1="160.8" x2="577" y2="160.8" stroke="#00f" stroke-width="5.2" stroke-linecap="round"/>
<text transform="translate(585 171.5) scale(1 1.1)" font-size="30" text-anchor="start">Measured</text>
<line x1="510.5" y1="201.7" x2="577" y2="201.7" stroke="#f0f" stroke-width="5.2" stroke-linecap="round"/>
<text transform="translate(585 212.4) scale(1 1.1)" font-size="30" text-anchor="start">Ellison</text>
</g>
<rect x="615.9" y="287.3" width="54.6" height="66.3" fill="#fff" stroke="#808080" stroke-width="1.8"/>
<text transform="translate(643.6 334.7) scale(1 1.1)" font-size="34.5" text-anchor="middle" letter-spacing="0.8">(a)</text>
<rect x="1385" y="284.1" width="56" height="66" fill="#fff" stroke="#808080" stroke-width="1.8"/>
<text transform="translate(1413.4 331.9) scale(1 1.1)" font-size="34.5" text-anchor="middle" letter-spacing="0.8">(b)</text>
<rect x="626.8" y="1526.4" width="51" height="65" fill="#fff" stroke="#808080" stroke-width="1.8"/>
<text transform="translate(652.7 1573.7) scale(1 1.1)" font-size="34.5" text-anchor="middle" letter-spacing="0.8">(c)</text>
<rect x="1391.8" y="1514.1" width="56.8" height="66.4" fill="#fff" stroke="#808080" stroke-width="1.8"/>
<text transform="translate(1420.6 1561) scale(1 1.1)" font-size="34.5" text-anchor="middle" letter-spacing="0.8">(d)</text>
</g></svg></body></html>
